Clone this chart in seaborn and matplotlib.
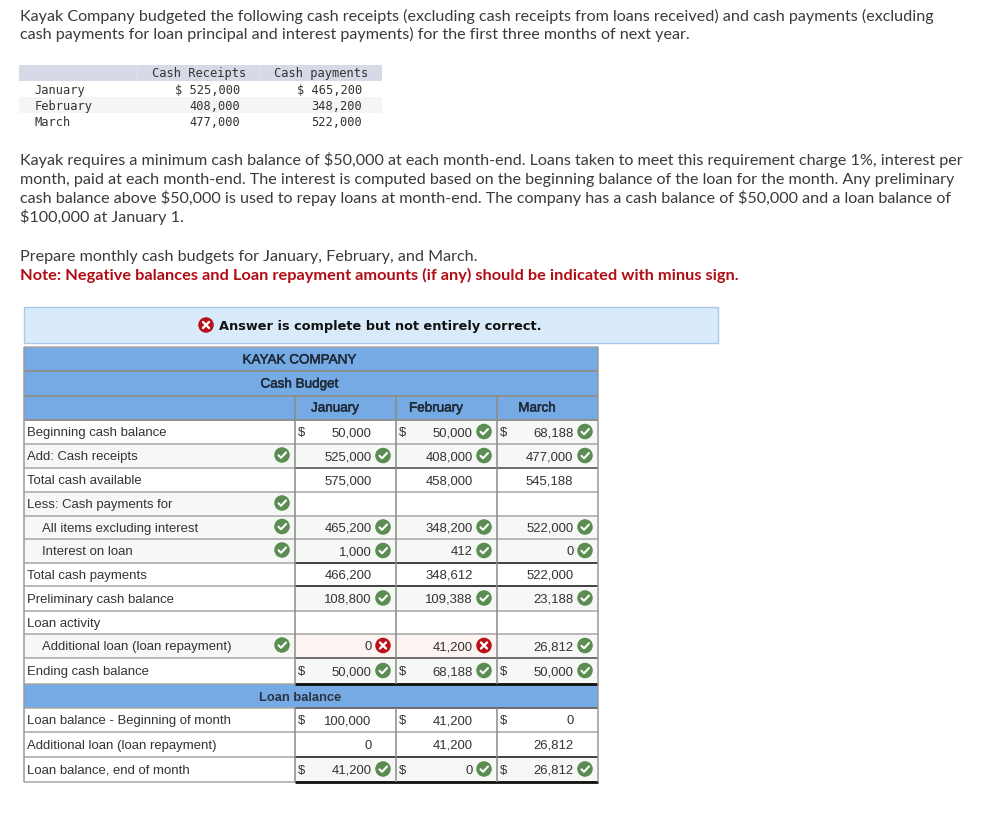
import numpy as np
import pandas as pd
import matplotlib
matplotlib.use("Agg")
import matplotlib.pyplot as plt
import matplotlib.patheffects as pe
from matplotlib.colors import ListedColormap
import seaborn as sns

# Datos de la tabla pequeña
MESES = ["January", "February", "March"]
RECIBOS = ["$ 525,000", "408,000", "477,000"]
PAGOS = ["$ 465,200", "348,200", "522,000"]

# Datos del presupuesto
ETIQUETAS = [
    "Beginning cash balance", "Add: Cash receipts", "Total cash available",
    "Less: Cash payments for", "All items excluding interest", "Interest on loan",
    "Total cash payments", "Preliminary cash balance", "Loan activity",
    "Additional loan (loan repayment)", "Ending cash balance", "",
    "Loan balance - Beginning of month", "Additional loan (loan repayment)",
    "Loan balance, end of month",
]
SANGRIA = [4, 5, 9]
ENERO = ["50,000", "525,000", "575,000", "", "465,200", "1,000", "466,200", "108,800", "",
         "0", "50,000", "", "100,000", "0", "41,200"]
FEBRERO = ["50,000", "408,000", "458,000", "", "348,200", "412", "348,612", "109,388", "",
           "41,200", "68,188", "", "41,200", "41,200", "0"]
MARZO = ["68,188", "477,000", "545,188", "", "522,000", "0", "522,000", "23,188", "",
         "26,812", "50,000", "", "0", "26,812", "26,812"]
CON_DOLAR = [0, 10, 12, 14]

# Marcas de corrección: o = bien, x = mal, - = nada
MARCA_ETIQUETA = "-o-ooo---o-----"
MARCA_ENERO = "-o--oo-o-xo---o"
MARCA_FEBRERO = "oo--oo-o-xo---o"
MARCA_MARZO = "oo--oo-o-oo---o"

TEXTO_ARRIBA = [
    "Kayak Company budgeted the following cash receipts (excluding cash receipts from loans received) and cash payments (excluding",
    "cash payments for loan principal and interest payments) for the first three months of next year.",
]
TEXTO_MEDIO = [
    "Kayak requires a minimum cash balance of $50,000 at each month-end. Loans taken to meet this requirement charge 1%, interest per",
    "month, paid at each month-end. The interest is computed based on the beginning balance of the loan for the month. Any preliminary",
    "cash balance above $50,000 is used to repay loans at month-end. The company has a cash balance of $50,000 and a loan balance of",
    "$100,000 at January 1.",
]
TEXTO_PREPARAR = "Prepare monthly cash budgets for January, February, and March."
TEXTO_NOTA = "Note: Negative balances and Loan repayment amounts (if any) should be indicated with minus sign."
TEXTO_AVISO = "Answer is complete but not entirely correct."

# Geometría en píxeles
ANCHO, ALTO = 991, 813
BORDES_X = [24, 295, 396, 497, 598]
BORDES_Y = [347, 371, 396, 420, 444, 468, 492, 516, 539, 563, 586, 611, 634, 658, 684, 708, 732, 757, 782]
AZUL = "#76aae4"
VERDE = "#5b8c51"
ROJO = "#b8111a"
TINTA = "#333333"

sns.set_theme(style="white")
plt.rcParams["font.family"] = ["Liberation Sans", "DejaVu Sans"]

fig = plt.figure(figsize=(ANCHO / 100, ALTO / 100), dpi=100)


def caja(x0, x1, y0, y1):
    return [x0 / ANCHO, 1 - y1 / ALTO, (x1 - x0) / ANCHO, (y1 - y0) / ALTO]


def celdas(bordes_x, bordes_y, codigos, colores):
    # heatmap con filas y columnas de ancho desigual, vía escalas funcionales
    ax = fig.add_axes(caja(bordes_x[0], bordes_x[-1], bordes_y[0], bordes_y[-1]), zorder=1)
    sns.heatmap(codigos, ax=ax, cmap=ListedColormap(colores), vmin=-0.5, vmax=len(colores) - 0.5,
                cbar=False, xticklabels=False, yticklabels=False, linewidths=0)
    ix = np.arange(len(bordes_x))
    iy = np.arange(len(bordes_y))
    ax.set_xscale("function", functions=(lambda v: np.interp(v, ix, bordes_x),
                                         lambda v: np.interp(v, bordes_x, ix)))
    ax.set_yscale("function", functions=(lambda v: np.interp(v, iy, bordes_y),
                                         lambda v: np.interp(v, bordes_y, iy)))
    ax.set_xlim(0, len(bordes_x) - 1)
    ax.set_ylim(len(bordes_y) - 1, 0)
    ax.axis("off")


# Página completa en coordenadas de píxel, encima de los heatmaps
page = fig.add_axes([0, 0, 1, 1], zorder=2)
page.set_xlim(0, ANCHO)
page.set_ylim(ALTO, 0)
page.axis("off")
page.patch.set_alpha(0)

# Texto del enunciado
CUERPO = dict(family="Lato", fontsize=11.64, color="#3a3a3a", va="baseline", parse_math=False)
for y, linea in zip([21, 39.5], TEXTO_ARRIBA):
    page.text(19.5, y, linea, **CUERPO)
for y, linea in zip([165, 184, 203, 222], TEXTO_MEDIO):
    page.text(19.5, y, linea, **CUERPO)
page.text(19.5, 261, TEXTO_PREPARAR, **CUERPO)
page.text(19.5, 279.5, TEXTO_NOTA, family="Lato", fontsize=11.8, color="#b00d14",
          weight="bold", va="baseline")

# Tabla pequeña
codigos_mini = np.array([[0, 0, 0], [1, 1, 1], [2, 2, 2], [1, 1, 1]])
celdas([19, 137, 259, 382], [65, 81, 97, 113, 129], codigos_mini, ["#d5dae6", "#ffffff", "#f5f5f5"])
page.vlines([137, 259], 65, 81, color="#e6e9f0", lw=0.5)
MONO = dict(family="DejaVu Sans Mono", fontsize=8.65, color="#333333", va="baseline", parse_math=False)
page.text(152, 77, "Cash Receipts", **MONO)
page.text(274, 77, "Cash payments", **MONO)
for i, mes in enumerate(MESES):
    y = 94 + 16 * i
    page.text(34.5, y, mes, **MONO)
    page.text(240, y, RECIBOS[i], ha="right", **MONO)
    page.text(362, y, PAGOS[i], ha="right", **MONO)

# Aviso
page.add_patch(plt.Rectangle((23.5, 307.5), 694, 36, fc="#d9ebfa", ec="#a9c8e6", lw=1))
page.text(219, 330, TEXTO_AVISO, family="DejaVu Sans", fontsize=9.3, weight="bold",
          color="#111111", va="baseline")

# Colores de fondo del presupuesto: 0 blanco, 1 verde claro, 2 rosa, 3 azul
FONDO = {"-": 0, "o": 1, "x": 2}
filas = [[3, 3, 3, 3]] * 3
for i in range(len(ETIQUETAS)):
    if i == 11:
        filas.append([3, 3, 3, 3])
    else:
        filas.append([FONDO[m[i]] for m in (MARCA_ETIQUETA, MARCA_ENERO, MARCA_FEBRERO, MARCA_MARZO)])
celdas(BORDES_X, BORDES_Y, np.array(filas), ["#ffffff", "#f5f8f5", "#fdf3f1", AZUL])

# Rejilla
GRIS = "#a6a6a6"
OSCURO = "#5a5a5a"
borde = np.array(BORDES_Y)
page.hlines(borde, BORDES_X[0], BORDES_X[-1], color=GRIS, lw=1.1)
page.hlines(borde[[1, 2, 3]], BORDES_X[0], BORDES_X[-1], color="#8a8a8a", lw=1.1)
page.hlines(borde[[5, 13, 15]], BORDES_X[1], BORDES_X[-1], color=OSCURO, lw=1.1)
page.hlines(borde[[9, 10, 17]], BORDES_X[1], BORDES_X[-1], color="#222222", lw=1.1)
page.hlines(borde[[14, 18]], BORDES_X[1], BORDES_X[-1], color="#111111", lw=2)
page.vlines([BORDES_X[0] - 0.5, BORDES_X[-1]], BORDES_Y[0], BORDES_Y[-1], color="#999999", lw=1.1)
page.vlines(BORDES_X[1:4], borde[2], borde[14], color="#8a8a8a", lw=1.1)
page.vlines(BORDES_X[1:4], borde[15], borde[18], color="#8a8a8a", lw=1.1)

# Cabeceras, con un trazo fino para el peso semibold del original
CABECERA = dict(fontsize=9.7, color="#1f2a38", ha="center", va="baseline",
                path_effects=[pe.withStroke(linewidth=0.35, foreground="#1f2a38")])
page.text(299.5, 363.5, "KAYAK COMPANY", **CABECERA)
page.text(299.5, 387.5, "Cash Budget", **CABECERA)
for x, mes in zip([335, 436, 537], MESES):
    page.text(x, 411.5, mes, **CABECERA)
page.text(300, 700.5, "Loan balance", fontsize=9.3, weight="bold", color="#2b3340", ha="center", va="baseline")

# Cuerpo del presupuesto
centros = (borde[3:-1] + borde[4:]) / 2
x_valor = [371, 472, 573]
x_dolar = [298, 399, 500]
x_marca = [383, 484, 585]
TEXTO_TABLA = dict(fontsize=9.45, color=TINTA, va="baseline")
iconos = []
for i, etiqueta in enumerate(ETIQUETAS):
    y = centros[i]
    x = 42 if i in SANGRIA else 27
    page.text(x, y + 4, etiqueta, **TEXTO_TABLA)
    if MARCA_ETIQUETA[i] != "-":
        iconos.append((282, y - 1, MARCA_ETIQUETA[i]))
    for c, (col, marcas) in enumerate(zip((ENERO, FEBRERO, MARZO),
                                          (MARCA_ENERO, MARCA_FEBRERO, MARCA_MARZO))):
        page.text(x_valor[c] + 0.5, y + 4, col[i], ha="right", **TEXTO_TABLA)
        if i in CON_DOLAR:
            page.text(x_dolar[c], y + 4, "$", parse_math=False, **TEXTO_TABLA)
        if marcas[i] != "-":
            iconos.append((x_marca[c], y - 0.5, marcas[i]))

iconos.append((206, 325, "x"))
df_iconos = pd.DataFrame(iconos, columns=["x", "y", "marca"])
sns.scatterplot(data=df_iconos, x="x", y="y", hue="marca", palette={"o": VERDE, "x": ROJO},
                s=125, linewidth=0, legend=False, ax=page, zorder=3)
page.set_xlim(0, ANCHO)
page.set_ylim(ALTO, 0)
page.axis("off")

# Glifos blancos de los iconos
for x, y, marca in iconos:
    if marca == "o":
        page.plot([x - 3.5, x - 1, x + 4], [y + 0.3, y + 2.8, y - 2.5], color="white", lw=1.5,
                  solid_capstyle="round", zorder=4)
    else:
        page.plot([x - 3, x + 3], [y - 3, y + 3], color="white", lw=1.7, zorder=4)
        page.plot([x - 3, x + 3], [y + 3, y - 3], color="white", lw=1.7, zorder=4)

fig.savefig("out.png", dpi=100)
plt.close(fig)
